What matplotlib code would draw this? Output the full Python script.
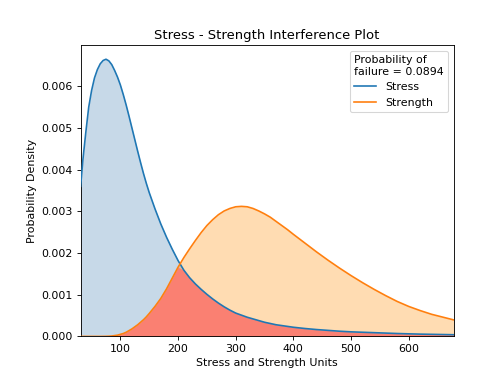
import numpy as np
import matplotlib
matplotlib.use("Agg")
import matplotlib.pyplot as plt

# values
x_units = [31, 35, 40, 45, 50, 55, 60, 65, 70, 75, 80, 85, 90, 95, 100,
           105, 110, 115, 120, 125, 130, 135, 140, 145, 150, 160, 170, 180,
           190, 200, 210, 220, 230, 240, 250, 260, 270, 280, 290, 300, 310,
           320, 330, 340, 350, 360, 370, 380, 390, 400, 420, 440, 460, 480,
           500, 520, 540, 560, 580, 600, 620, 640, 660, 680]

stress_pdf = [0.0036, 0.00425, 0.0049, 0.0055, 0.0059, 0.0062, 0.0064, 0.00654,
              0.00662, 0.00665, 0.00661, 0.00652, 0.00638, 0.00622, 0.00603,
              0.0058, 0.00555, 0.00528, 0.005, 0.00472, 0.00444, 0.00417,
              0.00391, 0.00367, 0.00345, 0.00306, 0.0027, 0.00238, 0.00209,
              0.00182, 0.00159, 0.00141, 0.00126, 0.00113, 0.00101, 0.0009,
              0.0008, 0.00071, 0.00063, 0.00056, 0.00051, 0.00046, 0.00042,
              0.00038, 0.00034, 0.00031, 0.00028, 0.00026, 0.00024, 0.00022,
              0.00019, 0.000165, 0.000145, 0.000125, 0.00011, 0.0001,
              0.00009, 0.00008, 0.00007, 0.000062, 0.000055, 0.00005,
              0.000045, 0.00004]

strength_pdf = [0.0, 0.0, 0.0, 0.0, 0.0, 0.0, 0.0, 0.0, 0.000001, 0.000002,
                0.000005, 0.00001, 0.00002, 0.00003, 0.00005, 0.00007, 0.0001,
                0.00014, 0.00018, 0.00023, 0.00028, 0.00034, 0.0004, 0.00047,
                0.00055, 0.00072, 0.00091, 0.00114, 0.0014, 0.00166, 0.00189,
                0.0021, 0.0023, 0.00249, 0.00266, 0.0028, 0.00292, 0.00301,
                0.00307, 0.00311, 0.00312, 0.00311, 0.00307, 0.00301, 0.00294,
                0.00286, 0.00276, 0.00266, 0.00256, 0.00245, 0.00224, 0.00203,
                0.00183, 0.00164, 0.00146, 0.00129, 0.00113, 0.00098, 0.00084,
                0.00072, 0.00062, 0.00053, 0.00046, 0.00039]

prob_of_failure = 0.0894

x = np.array(x_units)
stress = np.array(stress_pdf)
strength = np.array(strength_pdf)

plt.figure(figsize=(6.4, 4.8), dpi=78.75)
plt.plot(x, stress, label='Stress', zorder=3)
plt.plot(x, strength, label='Strength', zorder=3)
plt.fill_between(x, stress, color='steelblue', alpha=0.3, linewidth=0)
plt.fill_between(x, strength, color='darkorange', alpha=0.3, linewidth=0)
plt.fill_between(x, np.minimum(stress, strength), color='salmon', linewidth=0)
plt.legend(title='Probability of\nfailure = ' + str(prob_of_failure), alignment='left')
plt.title('Stress - Strength Interference Plot')
plt.xlabel('Stress and Strength Units')
plt.ylabel('Probability Density')
plt.xlim(31, 678)
plt.ylim(bottom=0)
plt.subplots_adjust(left=0.16)
plt.savefig('out.png', dpi=78.75)
